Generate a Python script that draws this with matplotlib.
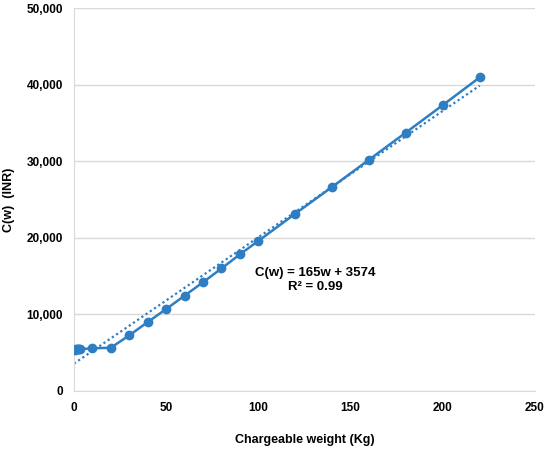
import numpy as np
import matplotlib.pyplot as plt
from matplotlib.ticker import FuncFormatter

plt.rcParams['font.family'] = ['Liberation Sans', 'DejaVu Sans']
plt.rcParams['font.weight'] = 'bold'
plt.rcParams['axes.labelweight'] = 'bold'

weight = [0.5, 1, 1.5, 2, 2.5, 3, 10, 20, 30, 40, 50, 60, 70, 80, 90, 100,
          120, 140, 160, 180, 200, 220]
cost = [5400, 5420, 5430, 5440, 5450, 5460, 5570, 5650, 7270, 9000, 10700,
        12450, 14200, 16000, 17850, 19600, 23150, 26650, 30200, 33750, 37330, 40950]
slope, intercept = 165, 3574
blue = '#2E7EC4'

fig = plt.figure(figsize=(5.5, 4.49), dpi=100)
ax = fig.add_axes([0.1345, 0.1292, 0.8382, 0.8528])

ax.plot(weight, cost, color=blue, lw=1.8, marker='o', ms=6, zorder=3)
fit_x = np.array([0, 220])
ax.plot(fit_x, slope * fit_x + intercept, color=blue, lw=1.6, ls=(0, (1, 1.3)), zorder=2)

ax.set_xlim(0, 250)
ax.set_ylim(0, 50000)
ax.set_xticks(np.arange(0, 251, 50))
ax.set_yticks(np.arange(0, 50001, 10000))
ax.yaxis.set_major_formatter(FuncFormatter(lambda v, p: f'{int(v):,}'))
ax.grid(axis='y', color='#d9d9d9', lw=1)
ax.set_axisbelow(True)
for s in ['top', 'right']:
    ax.spines[s].set_visible(False)
ax.spines['left'].set_color('#d9d9d9')
ax.spines['bottom'].set_color('#d9d9d9')
ax.tick_params(length=0, labelsize=8.5, pad=8)

ax.set_xlabel('Chargeable weight (Kg)', fontsize=9, labelpad=14)
ax.set_ylabel('C(w)  (INR)', fontsize=9, labelpad=8)

ax.text(131, 14500, 'C(w) = 165w + 3574\nR² = 0.99', ha='center', va='center',
        fontsize=9.5, linespacing=1.2)

fig.savefig('out.png', dpi=100)
